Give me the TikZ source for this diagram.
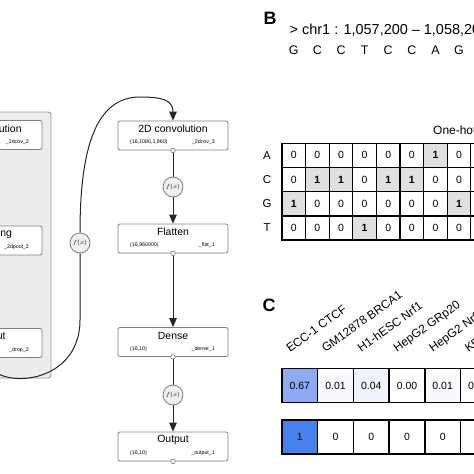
\documentclass[tikz,border=0pt]{standalone}
\usepackage{fontspec}
\setmainfont{Liberation Sans}
\usetikzlibrary{arrows.meta}
\begin{document}
\begin{tikzpicture}[x=1bp,y=-1bp,
  layer/.style={draw=black!50, fill=white, rounded corners=2bp, line width=0.8bp, minimum width=110bp, minimum height=29bp, inner sep=0pt},
  ltitle/.style={inner sep=0pt, font=\fontsize{10.5}{12}\selectfont},
  lsub/.style={inner sep=0pt, font=\fontsize{5.3}{6}\selectfont},
  port/.style={circle, draw=black!55, fill=white, line width=0.6bp, minimum size=4.5bp, inner sep=0pt},
  fx/.style={circle, draw=black!55, fill=black!6, line width=0.7bp, minimum size=20bp, inner sep=0pt, font=\fontsize{6}{7}\selectfont},
  conn/.style={draw=black!85, line width=1bp},
  tip/.style={-{Triangle[width=7.5bp,length=9bp]}},
  panel/.style={draw=black!40, fill=black!7, rounded corners=3bp, line width=0.9bp},
  plabel/.style={inner sep=0pt, font=\bfseries\fontsize{18}{20}\selectfont},
  cell/.style={draw=black, line width=1.3bp, minimum width=23.6bp, minimum height=24.2bp, inner sep=0pt, font=\fontsize{10.5}{12}\selectfont},
  v0/.style={},
  v1/.style={fill=black!12, font=\bfseries\fontsize{10.5}{12}\selectfont},
  ccell/.style={draw=black, line width=1.4bp, minimum width=35.7bp, minimum height=34bp, inner sep=0pt, font=\fontsize{10.5}{12}\selectfont},
  tf/.style={anchor=base west, rotate=36, inner sep=0pt, font=\fontsize{12}{13}\selectfont}
]
\useasboundingbox (0,0) rectangle (474,474);
\begin{scope}
\clip (0,0) rectangle (474,474);
\fill[white] (0,0) rectangle (474,474);

% ---------- panel A ----------
\node[panel, minimum width=141bp, minimum height=266bp] (grp) at (-19.5,245) {};

\newcommand\layerbox[6]{%
  \node[layer] (#1) at (#2,#3) {};
  \node[ltitle] (#1t) at (#2,#3-6.5) {#4};
  \node[lsub, anchor=west] (#1s) at (#2-43,#3+6.8) {#5};
  \node[lsub, anchor=east] (#1i) at (#2+42,#3+6.8) {#6};
}
\layerbox{conv2}{-13}{135}{2D convolution}{(16,1080,1,960)}{\_2dcov\_2}
\layerbox{pool}{-13}{240.5}{2D pooling}{(16,540,1,480)}{\_2dpool\_2}
\layerbox{drop}{-13}{343}{Dropout}{(16,540,1,480)}{\_drop\_2}

\layerbox{b3}{173}{135.5}{2D convolution}{(16,1080,1,960)}{\_2dcov\_3}
\layerbox{flat}{173}{238.5}{Flatten}{(16,960000)}{\_flat\_1}
\layerbox{dense}{173}{342}{Dense}{(16,10)}{\_dense\_1}
\layerbox{out}{173}{446.5}{Output}{(16,10)}{\_output\_1}

\node[fx] (fx1) at (173,187) {$f(x)$};
\node[fx] (fx2) at (173,395) {$f(x)$};
\node[fx] (fx3) at (80,243) {$f(x)$};

\draw[conn] (b3.south) -- (fx1.north);
\draw[conn,tip] (fx1.south) -- (flat.north);
\draw[conn,tip] (flat.south) -- (dense.north);
\draw[conn] (dense.south) -- (fx2.north);
\draw[conn,tip] (fx2.south) -- (out.north);
\draw[conn] (drop.south) .. controls (-13,390) and (80,390) .. (80,320) -- (fx3.south);
\draw[conn,tip] (fx3.north) .. controls (80,150) and (95,97) .. (140,97) .. controls (162,97) and (173,100) .. (b3.north);

\foreach \n in {conv2,pool,drop,b3,flat,dense,out}
  \node[port] (\n p) at (\n.south) {};

% ---------- panel B ----------
\node[plabel] (labB) at (270,18) {B};
\node[anchor=base west, inner sep=0pt, font=\fontsize{14.5}{16}\selectfont] (hdr) at (289.5,34.5) {> chr1 : 1,057,200 -- 1,058,200};
\foreach \s [count=\c from 0] in {G,C,C,T,C,C,A,G}
  \node[anchor=base, inner sep=0pt, font=\fontsize{12.5}{14}\selectfont] (sq\c) at ({293.8+23.6*\c},54.3) {\s};
\node[anchor=base west, inner sep=0pt, font=\fontsize{12}{13}\selectfont] (oh) at (433,134.5) {One-hot encoding};

\foreach \l/\yy in {A/155.4,C/179.6,G/203.8,T/228.0}
  \node[inner sep=0pt, font=\fontsize{11.5}{12}\selectfont] (rl\l) at (267,\yy) {\l};

\foreach \v [count=\c from 0] in {0,0,0,0,0,0,1,0,0}
  \node[cell,v\v] (mA\c) at ({293.8+23.6*\c},155.4) {\v};
\foreach \v [count=\c from 0] in {0,1,1,0,1,1,0,0,0}
  \node[cell,v\v] (mC\c) at ({293.8+23.6*\c},179.6) {\v};
\foreach \v [count=\c from 0] in {1,0,0,0,0,0,0,1,0}
  \node[cell,v\v] (mG\c) at ({293.8+23.6*\c},203.8) {\v};
\foreach \v [count=\c from 0] in {0,0,0,1,0,0,0,0,0}
  \node[cell,v\v] (mT\c) at ({293.8+23.6*\c},228.0) {\v};

% ---------- panel C ----------
\node[plabel] (labC) at (269,305) {C};
\foreach \t [count=\c from 0] in {ECC-1 CTCF,GM12878 BRCA1,H1-hESC Nrf1,HepG2 GRp20,HepG2 Nrf1,K562 CTCF}
  \node[tf] (tf\c) at ({299.85+35.7*\c-10},353) {\t};

\definecolor{pblue}{RGB}{141,170,242}
\definecolor{tblue}{RGB}{72,128,236}
\definecolor{lblue}{RGB}{238,243,253}
\definecolor{vlblue}{RGB}{248,250,255}
\foreach \v/\f [count=\c from 0] in {0.67/pblue,0.01/vlblue,0.04/lblue,0.00/white,0.01/vlblue,0.00/white}
  \node[ccell, fill=\f] (p\c) at ({299.85+35.7*\c},385.5) {\v};
\foreach \v/\f [count=\c from 0] in {1/tblue,0/white,0/white,0/white,0/white,0/white}
  \node[ccell, fill=\f] (t\c) at ({299.85+35.7*\c},436.8) {\v};
\end{scope}
\end{tikzpicture}
\end{document}
